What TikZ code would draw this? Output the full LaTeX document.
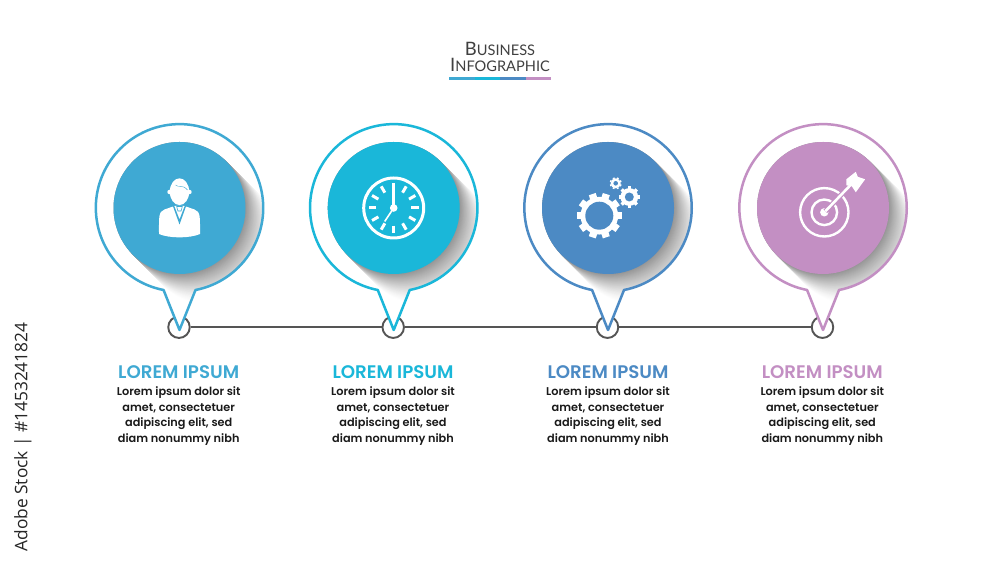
\documentclass[tikz,border=0pt]{standalone}
\usepackage{fontspec}
\setmainfont{Poppins}[UprightFont=* Medium,BoldFont=* SemiBold]
\newfontfamily\titlefont{Lato}
\newfontfamily\stockfont{Open Sans}
\definecolor{cA}{HTML}{3FA9D3}
\definecolor{cB}{HTML}{1AB7D9}
\definecolor{cC}{HTML}{4C8AC4}
\definecolor{cD}{HTML}{C38FC3}
\definecolor{linkgray}{HTML}{555555}
\definecolor{inktext}{HTML}{1A1A1A}
\tikzset{
  x=1pt,y=1pt,
  dotnode/.style={circle,draw=linkgray,fill=white,line width=1.9pt,minimum size=21.5pt,inner sep=0pt},
  linkline/.style={draw=linkgray,line width=2.6pt},
  headtext/.style={font=\fontsize{18.2}{20}\selectfont\bfseries,inner sep=0pt,anchor=center},
  bodytext/.style={font=\fontsize{11.3}{15.7}\selectfont\bfseries,text=inktext,align=center,inner sep=0pt,anchor=north},
  discnode/.style={circle,minimum size=132pt,inner sep=0pt},
}
\newcommand{\pinpath}{(16,-82) arc[start angle=-79,end angle=259,radius=83.7pt] -- (0,-122) -- cycle}
\newcommand{\gearicon}[7]{%
  \begin{scope}[shift={(#1,#2)}]
    \foreach \i in {1,...,#5}{
      \fill[white,rotate=#6+\i*360/#5] (#3*.75,-#3*.16) rectangle (#3,#3*.16);
    }
    \fill[white] (0,0) circle ({#3*.83});
    \fill[#7] (0,0) circle (#4);
  \end{scope}}
\newcommand{\pinshape}[3]{% x, id, colour
  \node[dotnode] (dot#2) at (#1-.5,239.8) {};
  \begin{scope}[shift={(#1,359)}]
    \fill[white] \pinpath;
    \begin{scope}
      \clip \pinpath;
      \foreach \d in {44,43,...,0}{
        \pgfmathsetmacro{\k}{42*pow(1-\d/45,1.7)}
        \fill[black!\k!white] ({\d*.7071},{-\d*.7071}) circle (66);
      }
    \end{scope}
    \draw[#3,line width=2.5pt,line join=round] \pinpath;
    \node[discnode,fill=#3] (disc#2) at (0,0) {};
  \end{scope}}
\begin{document}
\begin{tikzpicture}
\useasboundingbox (0,0) rectangle (1000,567);
\fill[white] (0,0) rectangle (1000,567);

% title
\node[inner sep=0pt,font=\titlefont\color{black!75}] (t1) at (500,518.5)
  {{\fontsize{18.5}{18}\selectfont B}{\fontsize{14.6}{18}\selectfont USINESS}};
\node[inner sep=0pt,font=\titlefont\color{black!75}] (t2) at (500,502.5)
  {{\fontsize{18.5}{18}\selectfont I}{\fontsize{14.6}{18}\selectfont NFOGRAPHIC}};
\fill[cA] (449,487.3) rectangle (474.5,490);
\fill[cB] (474.5,487.3) rectangle (500,490);
\fill[cC] (500,487.3) rectangle (525.5,490);
\fill[cD] (525.5,487.3) rectangle (551,490);

% pins
\pinshape{179.5}{a}{cA}
\pinshape{393.7}{b}{cB}
\pinshape{608}{c}{cC}
\pinshape{823}{d}{cD}

% connectors
\draw[linkline] (dota) -- (dotb);
\draw[linkline] (dotb) -- (dotc);
\draw[linkline] (dotc) -- (dotd);

% person icon
\begin{scope}[shift={(179.5,359)}]
  \fill[white] (-20.5,-26) .. controls (-20.5,-8) and (-21,-4) .. (-15,-1.5)
     -- (-5,2) -- (5,2) -- (15,-1.5)
     .. controls (21,-4) and (20.5,-8) .. (20.5,-26)
     .. controls (10,-30.5) and (-10,-30.5) .. (-20.5,-26) -- cycle;
  \fill[white] (0,16.3) ellipse (9.7 and 13.4);
  \fill[white] (-10,16) circle (2.2);
  \fill[white] (10,16) circle (2.2);
  \draw[cA,line width=.4pt] (-4,23) .. controls (-1,20) and (3,24) .. (8,18);
  \fill[cA] (-6.8,2.5) -- (0,-16.5) -- (6.8,2.5) -- (5.4,2.5) -- (0,-11.5) -- (-5.4,2.5) -- cycle;
  \draw[cA,line width=.6pt] (-2.8,1.5) -- (2.8,1.5) -- (1.6,-3) -- (-1.6,-3) -- cycle;
\end{scope}

% clock icon
\begin{scope}[shift={(393.7,359)}]
  \draw[white,line width=3pt] (0,0) circle (30);
  \foreach \a in {0,30,...,330}{
    \draw[white,line width=3pt,rotate=\a] (17.7,0) -- (25,0);
  }
  \draw[white,line width=2.8pt] (0,0) -- (0,24);
  \draw[white,line width=1.6pt] (0,0) -- (-9,-13.5);
  \fill[white] (0,0) circle (3.8);
\end{scope}

% gears icon
\gearicon{599.3}{351.3}{22.7}{14}{10}{0}{cC}
\gearicon{629.3}{370}{10.7}{4.5}{8}{0}{cC}
\gearicon{615.7}{383.7}{6}{2.3}{8}{22}{cC}

% target icon
\begin{scope}[shift={(824.3,354.7)}]
  \draw[white,line width=2.4pt] (0,0) circle (24.2);
  \draw[white,line width=2.4pt] (0,0) circle (12.8);
  \fill[white] (0,0) circle (4.2);
  \draw[cD,line width=5pt] (1,1) -- (26,27);
  \draw[white,line width=2.6pt] (1,1) -- (26,27);
  \fill[white] (22,33) -- (31.5,40.5) -- (33.5,35.5) -- (40.8,33) -- (31.5,20) -- (27.5,26) -- (22,27) -- cycle;
\end{scope}

% texts
\foreach \id/\x/\col in {a/178.7/cA,b/393/cB,c/608/cC,d/822.3/cD}{
  \node[headtext,text=\col] (head\id) at (\x,195) {LOREM IPSUM};
  \node[bodytext] (body\id) at (\x,180.5) {Lorem ipsum dolor sit\\amet, consectetuer\\adipiscing elit, sed\\diam nonummy nibh};
}

% credit
\node[rotate=90,anchor=center,inner sep=0pt,font=\stockfont\fontsize{17.3}{18}\selectfont,text=black!85] (stock) at (23,130) {Adobe Stock | \#1453241824};
\end{tikzpicture}
\end{document}
